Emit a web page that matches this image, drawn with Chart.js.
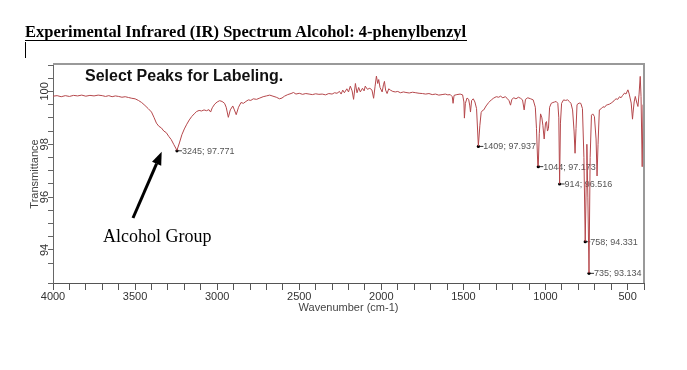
<!DOCTYPE html>
<html>
<head>
<meta charset="utf-8">
<script src="https://cdn.jsdelivr.net/npm/chart.js@4"></script>
<style>
  html, body { margin: 0; padding: 0; background: #fff; }
  #wrap { position: relative; width: 687px; height: 370px; }
  #grafico, #notas { position: absolute; left: 0; top: 0; }
</style>
</head>
<body>
<div id="wrap">
  <canvas id="grafico" width="687" height="370"></canvas>
  <svg id="notas" width="687" height="370">
    <text x="25" y="37" font-family="Liberation Serif, Times New Roman, serif" font-weight="bold" font-size="16.5" fill="#000">Experimental Infrared (IR) Spectrum Alcohol: 4-phenylbenzyl</text>
    <line x1="25" y1="40.5" x2="467" y2="40.5" stroke="#000" stroke-width="1"/>
    <line x1="25.5" y1="42" x2="25.5" y2="58" stroke="#000" stroke-width="1"/>
    <text x="85" y="81" font-family="Liberation Sans, Arial, sans-serif" font-weight="bold" font-size="16" fill="#111">Select Peaks for Labeling.</text>
    <text x="103" y="242" font-family="Liberation Serif, Times New Roman, serif" font-size="18" fill="#000">Alcohol Group</text>
    <line x1="133" y1="218" x2="156.6" y2="163.7" stroke="#000" stroke-width="3"/>
    <polygon points="161.7,151.7 161.2,165.7 152.0,161.7" fill="#000"/>
  </svg>
</div>
<script>
// espectro IR: numero de onda (cm-1) y transmitancia
const numeroOnda = [
  4000, 3975, 3950, 3925, 3900, 3875, 3850, 3825, 3800, 3775, 3750, 3725, 3700, 3680, 3660, 3640, 3620, 3600, 3580, 3560,
  3540, 3520, 3500, 3480, 3460, 3440, 3420, 3400, 3385, 3370, 3355, 3340, 3325, 3310, 3295, 3280, 3265, 3245, 3230, 3215,
  3200, 3185, 3170, 3155, 3140, 3125, 3110, 3095, 3080, 3065, 3050, 3040, 3030, 3015, 3000, 2985, 2970, 2955, 2945, 2932,
  2920, 2905, 2895, 2884, 2870, 2855, 2840, 2825, 2810, 2795, 2780, 2760, 2740, 2720, 2700, 2680, 2660, 2640, 2620, 2605,
  2590, 2570, 2550, 2535, 2520, 2500, 2480, 2460, 2440, 2420, 2400, 2380, 2360, 2340, 2320, 2300, 2285, 2270, 2255, 2245,
  2235, 2225, 2210, 2200, 2189, 2178, 2169, 2158, 2148, 2138, 2128, 2115, 2105, 2098, 2085, 2070, 2057, 2047, 2038, 2030,
  2022, 2016, 2008, 1995, 1987, 1981, 1974, 1965, 1955, 1945, 1930, 1915, 1900, 1884, 1865, 1850, 1830, 1810, 1790, 1770,
  1750, 1730, 1710, 1690, 1670, 1650, 1630, 1610, 1595, 1580, 1568, 1563, 1557, 1540, 1520, 1505, 1497, 1494, 1488, 1478,
  1468, 1461, 1457, 1450, 1440, 1430, 1420, 1409, 1400, 1392, 1384, 1376, 1362, 1346, 1330, 1315, 1300, 1285, 1274, 1260,
  1245, 1234, 1222, 1213, 1205, 1193, 1180, 1165, 1152, 1140, 1130, 1122, 1108, 1090, 1075, 1062, 1055, 1047, 1044, 1038,
  1030, 1022, 1016, 1008, 1000, 994, 988, 982, 975, 965, 955, 945, 935, 925, 919, 914, 909, 902, 890, 878,
  865, 855, 845, 835, 826, 820, 814, 808, 795, 785, 775, 766, 758, 752, 748, 742, 735, 728, 720, 712,
  702, 692, 686, 680, 672, 660, 650, 640, 630, 620, 610, 600, 590, 579, 570, 560, 549, 540, 530, 518,
  510, 498, 490, 478, 470, 467, 460, 453, 445, 437, 430, 423, 418, 411, 406, 402, 400
];
const transmitancia = [
  99.82, 99.84, 99.80, 99.84, 99.81, 99.85, 99.83, 99.86, 99.82, 99.85, 99.83, 99.86, 99.84, 99.81, 99.84, 99.80, 99.83, 99.81, 99.78, 99.80,
  99.77, 99.74, 99.72, 99.66, 99.58, 99.47, 99.35, 99.22, 99.02, 98.80, 98.68, 98.62, 98.50, 98.44, 98.30, 98.18, 98.00, 97.771, 98.05, 98.36,
  98.58, 98.76, 98.92, 99.05, 99.15, 99.24, 99.28, 99.26, 99.30, 99.27, 99.31, 99.22, 99.38, 99.52, 99.60, 99.65, 99.62, 99.55, 99.40, 99.02,
  99.30, 99.45, 99.30, 99.12, 99.40, 99.58, 99.55, 99.62, 99.68, 99.66, 99.72, 99.70, 99.75, 99.80, 99.83, 99.86, 99.82, 99.78, 99.72, 99.75,
  99.82, 99.88, 99.92, 99.96, 99.90, 99.93, 99.89, 99.92, 99.90, 99.88, 99.91, 99.89, 99.90, 99.87, 99.92, 99.90, 99.95, 99.93, 100.00, 99.90,
  100.05, 99.95, 100.10, 99.98, 100.20, 100.02, 99.70, 100.30, 99.95, 100.15, 99.98, 100.12, 100.02, 100.20, 100.08, 100.12, 100.05, 99.74, 100.20, 100.58,
  100.30, 100.45, 100.15, 99.98, 100.25, 100.38, 100.05, 99.92, 100.10, 100.05, 100.00, 99.98, 100.00, 99.95, 99.98, 99.96, 99.94, 99.97, 99.95, 99.93,
  99.92, 99.90, 99.92, 99.88, 99.90, 99.86, 99.88, 99.90, 99.87, 99.88, 99.80, 99.55, 99.85, 99.88, 99.90, 99.87, 99.60, 98.99, 99.55, 99.75,
  99.70, 99.45, 99.22, 99.66, 99.72, 99.60, 99.35, 97.937, 98.70, 99.20, 99.28, 99.30, 99.45, 99.58, 99.68, 99.75, 99.80, 99.78, 99.82, 99.76,
  99.80, 99.74, 99.65, 99.48, 99.70, 99.76, 99.72, 99.78, 99.74, 99.68, 99.30, 99.70, 99.76, 99.72, 99.68, 99.40, 98.60, 97.20, 97.173, 98.40,
  99.15, 99.00, 98.72, 98.20, 98.80, 98.86, 98.50, 98.60, 99.40, 99.55, 99.58, 99.60, 99.62, 99.55, 99.00, 96.516, 98.80, 99.55, 99.68, 99.66,
  99.68, 99.62, 99.55, 99.30, 98.50, 97.66, 98.60, 99.50, 99.56, 99.55, 99.35, 97.50, 94.331, 96.50, 98.00, 96.00, 93.134, 97.50, 99.10, 99.15,
  99.05, 98.20, 96.80, 98.00, 99.30, 99.35, 99.42, 99.40, 99.48, 99.50, 99.52, 99.56, 99.60, 99.68, 99.72, 99.70, 99.80, 99.76, 99.85, 99.94,
  99.90, 100.06, 99.90, 99.56, 98.95, 99.18, 99.60, 99.81, 99.60, 99.43, 99.90, 100.57, 99.80, 97.15, 99.50, 100.19, 97.15
];

// picos marcados
const picosOnda = [3245, 1409, 1044, 914, 758, 735];
const picosTrans = [97.771, 97.937, 97.173, 96.516, 94.331, 93.134];

const etiquetasY = [94, 96, 98, 100];

const marcoPicos = {
  id: "marcoPicos",
  beforeDatasetsDraw(chart) {
    const ctx = chart.ctx;
    const x = chart.scales.x;
    const y = chart.scales.y;
    ctx.save();
    ctx.font = "9px 'Liberation Sans', Arial, sans-serif";
    ctx.textBaseline = "middle";
    picosOnda.forEach((w, i) => {
      const px = x.getPixelForValue(w);
      const py = y.getPixelForValue(picosTrans[i]);
      ctx.strokeStyle = "#333";
      ctx.lineWidth = 1;
      ctx.beginPath();
      ctx.moveTo(px, py + 0.5);
      ctx.lineTo(px + 5, py + 0.5);
      ctx.stroke();
      ctx.fillStyle = "#000";
      ctx.beginPath();
      ctx.arc(px, py + 0.5, 1.6, 0, Math.PI * 2);
      ctx.fill();
      ctx.fillStyle = "#555";
      ctx.fillText(w + "; " + picosTrans[i].toFixed(3), px + 5, py + 1);
    });
    ctx.restore();
  },
  afterDraw(chart) {
    const ctx = chart.ctx;
    const a = chart.chartArea;
    ctx.save();
    ctx.strokeStyle = "#999";
    ctx.lineWidth = 2;
    ctx.beginPath();
    ctx.moveTo(a.left, a.top - 1);
    ctx.lineTo(a.right, a.top - 1);
    ctx.lineTo(a.right, a.bottom);
    ctx.stroke();
    ctx.restore();
  }
};

const fuente = "'Liberation Sans', Arial, sans-serif";

new Chart(document.getElementById("grafico"), {
  type: "line",
  data: {
    datasets: [{
      data: numeroOnda.map((w, i) => ({ x: w, y: transmitancia[i] })),
      borderColor: "#b5474b",
      borderWidth: 1,
      pointRadius: 0,
      tension: 0
    }]
  },
  options: {
    responsive: false,
    animation: false,
    devicePixelRatio: 1,
    layout: { padding: { left: 0, top: 65, right: 43, bottom: 55 } },
    plugins: { legend: { display: false }, tooltip: { enabled: false } },
    scales: {
      x: {
        type: "linear",
        reverse: true,
        min: 400,
        max: 4000,
        afterFit: s => { s.height = 32; },
        border: { color: "#555", width: 1 },
        grid: { drawOnChartArea: false, drawTicks: true, tickLength: 7, color: "#555" },
        ticks: {
          stepSize: 100,
          autoSkip: false,
          maxRotation: 0,
          padding: 0,
          color: "#333",
          font: { family: fuente, size: 11 },
          callback: v => (v % 500 === 0 ? v : "")
        },
        title: {
          display: true,
          text: "Wavenumber (cm-1)",
          color: "#444",
          font: { family: fuente, size: 11 },
          padding: { top: 0, bottom: 0 }
        }
      },
      y: {
        min: 92.75,
        max: 101,
        afterFit: s => { s.width = 53; },
        border: { color: "#666", width: 1 },
        grid: { drawOnChartArea: false, drawTicks: true, tickLength: 5, color: "#666" },
        ticks: {
          stepSize: 0.5,
          autoSkip: false,
          minRotation: 90,
          maxRotation: 90,
          crossAlign: "center",
          padding: -6,
          color: "#333",
          font: { family: fuente, size: 11 },
          callback: v => {
            const r = Math.round(v);
            return Math.abs(v - r) < 1e-6 && etiquetasY.includes(r) ? r : "";
          }
        },
        title: {
          display: true,
          text: "Transmittance",
          color: "#444",
          font: { family: fuente, size: 11 },
          padding: { top: 28, bottom: 0 }
        }
      }
    }
  },
  plugins: [marcoPicos]
});
</script>
</body>
</html>
